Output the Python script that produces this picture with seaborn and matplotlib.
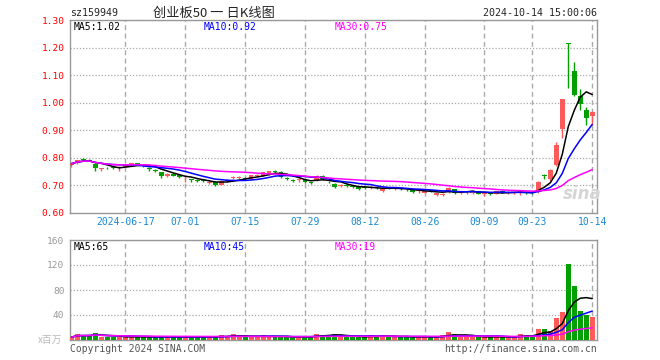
import numpy as np
import pandas as pd
import matplotlib
matplotlib.use("Agg")
import matplotlib.pyplot as plt
import seaborn as sns

# trading days shown (holidays excluded)
holidays = ["2024-06-10", "2024-09-16", "2024-09-17", "2024-10-01", "2024-10-02",
            "2024-10-03", "2024-10-04", "2024-10-07"]
dates = [d for d in pd.bdate_range("2024-06-03", "2024-10-14")
         if d.strftime("%Y-%m-%d") not in holidays]

opens = [0.774, 0.780, 0.795, 0.793, 0.779, 0.758, 0.763, 0.764, 0.763, 0.768,
         0.777, 0.781, 0.774, 0.762, 0.755, 0.747, 0.733, 0.741, 0.737, 0.722,
         0.721, 0.720, 0.717, 0.708, 0.714, 0.702, 0.717, 0.727, 0.727, 0.726,
         0.724, 0.734, 0.735, 0.739, 0.752, 0.749, 0.727, 0.718, 0.719, 0.720,
         0.711, 0.718, 0.735, 0.713, 0.706, 0.699, 0.703, 0.698, 0.696, 0.693,
         0.690, 0.691, 0.680, 0.691, 0.689, 0.689, 0.684, 0.682, 0.679, 0.674,
         0.681, 0.664, 0.667, 0.676, 0.686, 0.674, 0.675, 0.672, 0.679, 0.669,
         0.671, 0.670, 0.677, 0.674, 0.672, 0.674, 0.674, 0.673, 0.675, 0.735,
         0.725, 0.773, 0.906, 1.218, 1.115, 1.026, 0.973, 0.951]
highs = [0.781, 0.794, 0.800, 0.796, 0.780, 0.765, 0.767, 0.768, 0.770, 0.777,
         0.783, 0.783, 0.776, 0.766, 0.759, 0.749, 0.745, 0.744, 0.739, 0.732,
         0.725, 0.722, 0.721, 0.718, 0.716, 0.719, 0.724, 0.735, 0.733, 0.729,
         0.739, 0.740, 0.750, 0.752, 0.756, 0.751, 0.731, 0.722, 0.726, 0.722,
         0.714, 0.738, 0.738, 0.716, 0.708, 0.706, 0.705, 0.701, 0.698, 0.696,
         0.698, 0.695, 0.690, 0.694, 0.695, 0.691, 0.687, 0.684, 0.684, 0.680,
         0.684, 0.673, 0.672, 0.693, 0.688, 0.680, 0.680, 0.682, 0.681, 0.675,
         0.676, 0.679, 0.683, 0.679, 0.677, 0.683, 0.676, 0.676, 0.715, 0.742,
         0.758, 0.858, 1.015, 1.218, 1.149, 1.050, 0.983, 0.970]
lows = [0.766, 0.778, 0.789, 0.788, 0.752, 0.753, 0.758, 0.759, 0.752, 0.766,
        0.772, 0.774, 0.768, 0.754, 0.749, 0.727, 0.731, 0.733, 0.727, 0.714,
        0.714, 0.713, 0.711, 0.704, 0.699, 0.700, 0.714, 0.722, 0.722, 0.720,
        0.721, 0.729, 0.733, 0.737, 0.745, 0.728, 0.720, 0.712, 0.714, 0.710,
        0.705, 0.715, 0.720, 0.707, 0.691, 0.693, 0.696, 0.691, 0.685, 0.686,
        0.686, 0.686, 0.677, 0.686, 0.685, 0.685, 0.678, 0.673, 0.674, 0.672,
        0.675, 0.660, 0.660, 0.674, 0.670, 0.668, 0.670, 0.670, 0.669, 0.663,
        0.664, 0.668, 0.672, 0.670, 0.670, 0.665, 0.670, 0.669, 0.673, 0.724,
        0.716, 0.770, 0.871, 1.054, 1.023, 0.973, 0.918, 0.918]
closes = [0.779, 0.791, 0.794, 0.790, 0.762, 0.764, 0.762, 0.763, 0.768, 0.775,
          0.778, 0.776, 0.771, 0.761, 0.754, 0.733, 0.743, 0.736, 0.730, 0.724,
          0.719, 0.716, 0.715, 0.710, 0.703, 0.716, 0.719, 0.729, 0.728, 0.724,
          0.737, 0.735, 0.748, 0.751, 0.750, 0.731, 0.725, 0.716, 0.721, 0.713,
          0.709, 0.736, 0.723, 0.711, 0.694, 0.701, 0.698, 0.696, 0.688, 0.691,
          0.693, 0.689, 0.688, 0.689, 0.691, 0.687, 0.682, 0.675, 0.680, 0.678,
          0.679, 0.672, 0.668, 0.691, 0.672, 0.676, 0.677, 0.681, 0.670, 0.671,
          0.669, 0.678, 0.675, 0.676, 0.675, 0.676, 0.672, 0.672, 0.714, 0.734,
          0.757, 0.846, 1.015, 1.214, 1.029, 0.996, 0.943, 0.967]
volumes = [4.5, 9.6, 7.0, 7.5, 11.0, 5.5, 5.0, 5.2, 5.3, 4.8,
           5.0, 5.2, 4.9, 5.0, 5.1, 5.5, 4.8, 5.0, 5.2, 5.0,
           5.3, 4.9, 5.0, 5.1, 4.8, 8.0, 5.5, 9.6, 5.5, 5.0,
           5.2, 4.9, 8.5, 5.0, 5.1, 5.5, 4.8, 5.0, 5.2, 4.9,
           5.0, 9.6, 8.5, 8.5, 9.0, 5.0, 4.9, 5.1, 5.0, 4.8,
           8.0, 5.0, 8.0, 5.1, 4.9, 5.0, 5.2, 4.8, 5.0, 5.1,
           4.9, 5.0, 8.0, 12.8, 9.5, 5.0, 4.9, 5.1, 5.0, 4.8,
           5.0, 5.2, 4.9, 5.0, 5.1, 9.5, 8.0, 5.0, 18.0, 18.0,
           15.0, 35.0, 45.0, 122.0, 86.0, 46.0, 40.0, 37.0]

tick_dates = ["2024-06-17", "2024-07-01", "2024-07-15", "2024-07-29", "2024-08-12",
              "2024-08-26", "2024-09-09", "2024-09-23", "2024-10-14"]
tick_labels = ["2024-06-17", "07-01", "07-15", "07-29", "08-12",
               "08-26", "09-09", "09-23", "10-14"]
price_ticks = [0.60, 0.70, 0.80, 0.90, 1.00, 1.10, 1.20, 1.30]
vol_ticks = [40, 80, 120, 160]

df = pd.DataFrame({"date": dates, "open": opens, "high": highs, "low": lows,
                   "close": closes, "volume": volumes})
df["i"] = np.arange(len(df))
for n in (5, 10, 30):
    df[f"ma{n}"] = df["close"].rolling(n, min_periods=1).mean()
    df[f"vma{n}"] = df["volume"].rolling(n, min_periods=1).mean()

RED = "#ff5a5a"
GREEN = "#00a000"
df["color"] = np.where(df["close"] >= df["open"], RED, GREEN)
tick_pos = [df.index[df["date"] == pd.Timestamp(d)][0] for d in tick_dates]

sns.set_style("white")
plt.rcParams["font.family"] = ["DejaVu Sans Mono", "Noto Sans CJK SC"]

fig = plt.figure(figsize=(6.6, 3.6), dpi=100)
W, H = 660, 360
ax = fig.add_axes([70 / W, 147 / H, 527 / W, 193 / H])
axv = fig.add_axes([70 / W, 20 / H, 527 / W, 100 / H])

# candles
ax.vlines(df["i"], df["low"], df["high"], colors=df["color"], lw=1, zorder=3)
body = (df["close"] - df["open"]).abs().clip(lower=0.003)
ax.bar(df["i"], body, bottom=df[["open", "close"]].min(axis=1), width=0.8,
       color=df["color"], lw=0, zorder=3)

ma_colors = {"5": "black", "10": "#0000ff", "30": "#ff00ff"}
for n, c in ma_colors.items():
    sns.lineplot(x=df["i"], y=df[f"ma{n}"], ax=ax, color=c, lw=1.1, zorder=4)
    sns.lineplot(x=df["i"], y=df[f"vma{n}"], ax=axv, color=c, lw=1.1, zorder=4)

axv.bar(df["i"], df["volume"], width=0.83, color=df["color"], lw=0, zorder=3)

for a in (ax, axv):
    a.set_xlim(-0.25, 87.8)
    a.set_xlabel("")
    a.set_ylabel("")
    a.set_xticks(tick_pos)
    a.xaxis.grid(True, color="#aaaaaa", lw=1, linestyle=(0, (3.5, 2.5)))
    a.yaxis.grid(True, color="#aaaaaa", lw=0.9, linestyle=(0, (1, 1.5)))
    a.set_axisbelow(True)
    a.tick_params(length=0, pad=4, labelsize=6.8)
    for s in a.spines.values():
        s.set_color("#999999")
        s.set_linewidth(1)

ax.set_ylim(0.60, 1.30)
ax.set_yticks(price_ticks)
ax.set_yticklabels([f"{v:.2f}" for v in price_ticks], color="#ff0000")
ax.set_xticklabels(tick_labels, color="#1a8ad4", fontsize=7)
ax.tick_params(axis="x", pad=3)

axv.set_ylim(0, 160)
axv.set_yticks(vol_ticks)
axv.set_yticklabels([str(v) for v in vol_ticks], color="#999999")
axv.set_xticklabels([])

# texts
def ptext(x, y, s, **kw):
    fig.text(x / W, 1 - y / H, s, va="center", **kw)

ptext(70, 13, "sz159949", fontsize=7.2)
ptext(214, 13, "创业板50 一 日K线图", fontsize=9.5, ha="center",
      family=["Noto Sans CJK SC", "DejaVu Sans"])
ptext(597, 13, "2024-10-14 15:00:06", fontsize=7.2, ha="right")
ptext(74, 27, "MA5:1.02", fontsize=7, color="black")
ptext(204, 27, "MA10:0.92", fontsize=7, color="#0000ff")
ptext(335, 27, "MA30:0.75", fontsize=7, color="#ff00ff")
ptext(74, 247, "MA5:65", fontsize=7, color="black")
ptext(204, 247, "MA10:45", fontsize=7, color="#0000ff")
ptext(335, 247, "MA30:19", fontsize=7, color="#ff00ff")
ptext(38, 340, "x百万", fontsize=7, color="#bbbbbb",
      family=["Noto Sans CJK SC", "DejaVu Sans"])
ptext(70, 349, "Copyright 2024 SINA.COM", fontsize=7, color="#555555")
ptext(597, 349, "http://finance.sina.com.cn", fontsize=7, color="#555555", ha="right")
ptext(582, 194, "sina", fontsize=12, color="#d5d5d5", ha="center",
      fontweight="bold", style="italic", family="DejaVu Sans", zorder=1)

fig.savefig("out.png", dpi=100)
